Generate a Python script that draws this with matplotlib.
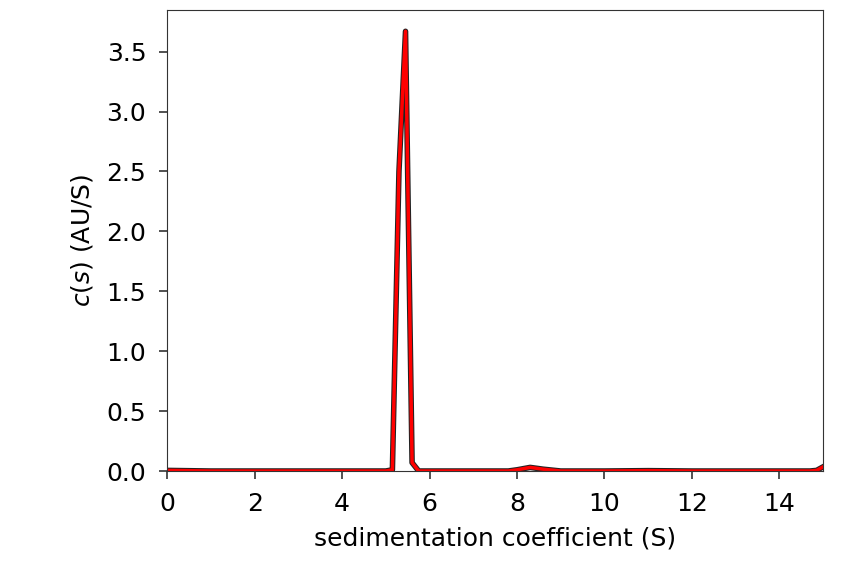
import matplotlib.pyplot as plt
import matplotlib.patheffects as pe

# c(s) distribution
s = [0.0, 1.0, 2.0, 3.0, 4.0, 5.0, 5.15, 5.3, 5.45, 5.6, 5.75, 6.0, 7.0, 7.8,
     8.0, 8.3, 8.6, 9.0, 10.0, 11.0, 12.0, 13.0, 14.0, 14.7, 14.85, 15.0]
cs = [0.005, 0.0, 0.0, 0.0, 0.0, 0.0, 0.01, 2.5, 3.67, 0.07, 0.0, 0.0, 0.0, 0.0,
      0.01, 0.03, 0.015, 0.0, 0.0, 0.003, 0.0, 0.0, 0.0, 0.0, 0.005, 0.035]

plt.rcParams['font.size'] = 18
plt.rcParams['axes.edgecolor'] = '#333333'
fig = plt.figure(figsize=(8.53, 5.73), dpi=100)
ax = fig.add_axes([0.196, 0.178, 0.769, 0.805])
ax.plot(s, cs, color='red', lw=2.5,
        path_effects=[pe.Stroke(linewidth=4, foreground='#222222'), pe.Normal()])
ax.set_xlim(0, 15)
ax.set_ylim(0, 3.85)
ax.set_xticks(range(0, 16, 2))
ax.set_yticks([0, 0.5, 1.0, 1.5, 2.0, 2.5, 3.0, 3.5])
ax.tick_params(length=6, width=1.2, pad=9, color='#333333')
ax.set_xlabel('sedimentation coefficient (S)', labelpad=8)
ax.set_ylabel('$c(s)$ (AU/S)', labelpad=8)
fig.savefig('out.png')
